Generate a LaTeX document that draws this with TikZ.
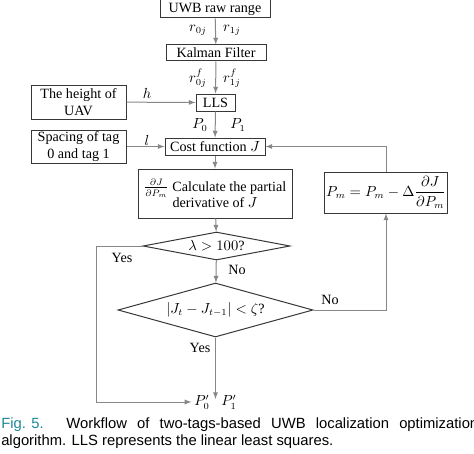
\documentclass[tikz,border=0pt]{standalone}
\usepackage{fontspec}
\usepackage{xcolor}
\setmainfont{Liberation Serif}
\newfontfamily\capfont{Liberation Sans}
\usetikzlibrary{shapes.geometric,positioning,calc}
\definecolor{boxline}{RGB}{55,55,55}
\definecolor{flowline}{RGB}{135,135,135}
\definecolor{figteal}{RGB}{30,135,150}
\tikzstyle{block}=[rectangle, draw=boxline, line width=.75pt, inner sep=1pt, align=center, font=\fontsize{10.6}{12.5}\selectfont]
\tikzstyle{decision}=[diamond, draw=boxline, line width=.75pt, inner sep=0pt, font=\fontsize{10.6}{12.5}\selectfont]
\tikzstyle{flow}=[-latex, draw=flowline, line width=.75pt]
\tikzstyle{lab}=[inner sep=0pt, font=\fontsize{10.6}{12.5}\selectfont]
\tikzset{x=0.75pt}
\tikzset{y=-0.75pt}
\begin{document}
\begin{tikzpicture}
  \useasboundingbox (0,0) rectangle (474,453);
  %% Main column
  \draw (215,9) node[block,minimum width=110*0.75pt,minimum height=18*0.75pt] (raw) {UWB raw range};
  \draw (216,53) node[block,minimum width=100*0.75pt,minimum height=16*0.75pt] (kalman) {Kalman Filter};
  \draw (215.5,102.5) node[block,minimum width=39*0.75pt,minimum height=17*0.75pt] (lls) {LLS};
  \draw (215,146.5) node[block,minimum width=100*0.75pt,minimum height=17*0.75pt] (cost) {Cost function $J$};
  \draw (215,193.5) node[block,minimum width=154*0.75pt,minimum height=49*0.75pt] (deriv) {$\frac{\partial J}{\partial P_m}$ Calculate the partial\\ derivative of $J$};
  \draw (216.5,246) node[decision,aspect=5,minimum width=147*0.75pt,minimum height=28*0.75pt] (lambda) {$\lambda > 100$?};
  \draw (215.5,310) node[decision,aspect=3,minimum width=195*0.75pt,minimum height=54*0.75pt] (conv) {$|J_t - J_{t-1}| < \zeta$?};

  %% Side inputs
  \draw (78.5,102) node[block,minimum width=95*0.75pt,minimum height=34*0.75pt] (height) {The height of\\ UAV};
  \draw (78.5,146.5) node[block,minimum width=95*0.75pt,minimum height=33*0.75pt] (spacing) {Spacing of tag\\ 0 and tag 1};
  \draw (386,192.5) node[block,minimum width=116*0.75pt,minimum height=41*0.75pt] (update) {$\displaystyle P_m = P_m - \Delta \frac{\partial J}{\partial P_m}$};

  %% Output
  \coordinate (out) at (215.5,399);
  \draw (202,402) node[lab] (P0out) {$P_0'$};
  \draw (229,402) node[lab] (P1out) {$P_1'$};

  %% Connectors
  \draw[flow] (raw) -- (kalman);
  \draw[flow] (kalman) -- (lls);
  \draw[flow] (height) -- (lls);
  \draw[flow] (lls) -- (cost);
  \draw[flow] (spacing) -- (cost);
  \draw[flow] (cost) -- (deriv);
  \draw[flow] (deriv) -- (lambda);
  \draw[flow] (lambda) -- (conv);
  \draw[flow] (lambda.west) -- ++(-46,0) |- ([xshift=-2pt]P0out.west);
  \draw[flow] (conv) -- (out);
  \draw[flow] (conv.east) -| (update.south);
  \draw[flow] (update.north) |- (cost.east);

  %% Labels
  \draw (198,30) node[lab] (r0) {$r_{0j}$};
  \draw (232,30) node[lab] (r1) {$r_{1j}$};
  \draw (198,78) node[lab] (r0f) {$r_{0j}^{f}$};
  \draw (232,78) node[lab] (r1f) {$r_{1j}^{f}$};
  \draw (147,93) node[lab] (hlab) {$h$};
  \draw (200,125) node[lab] (P0) {$P_0$};
  \draw (238,125) node[lab] (P1) {$P_1$};
  \draw (147,140) node[lab] (llab) {$l$};
  \draw (122,258) node[lab] (yes1) {Yes};
  \draw (237,270) node[lab] (no1) {No};
  \draw (330,300) node[lab] (no2) {No};
  \draw (200,348) node[lab] (yes2) {Yes};

  %% Caption
  \draw (1,418) node[anchor=north west,inner sep=0pt,text width=477*0.75pt,align=justify,font=\capfont\fontsize{11.1}{12.2}\selectfont] (caption) {\mbox{\textcolor{figteal}{Fig. 5.}}\hspace{17pt}Workflow of two-tags-based UWB localization optimization\linebreak algorithm. LLS represents the linear least squares.};
\end{tikzpicture}
\end{document}
